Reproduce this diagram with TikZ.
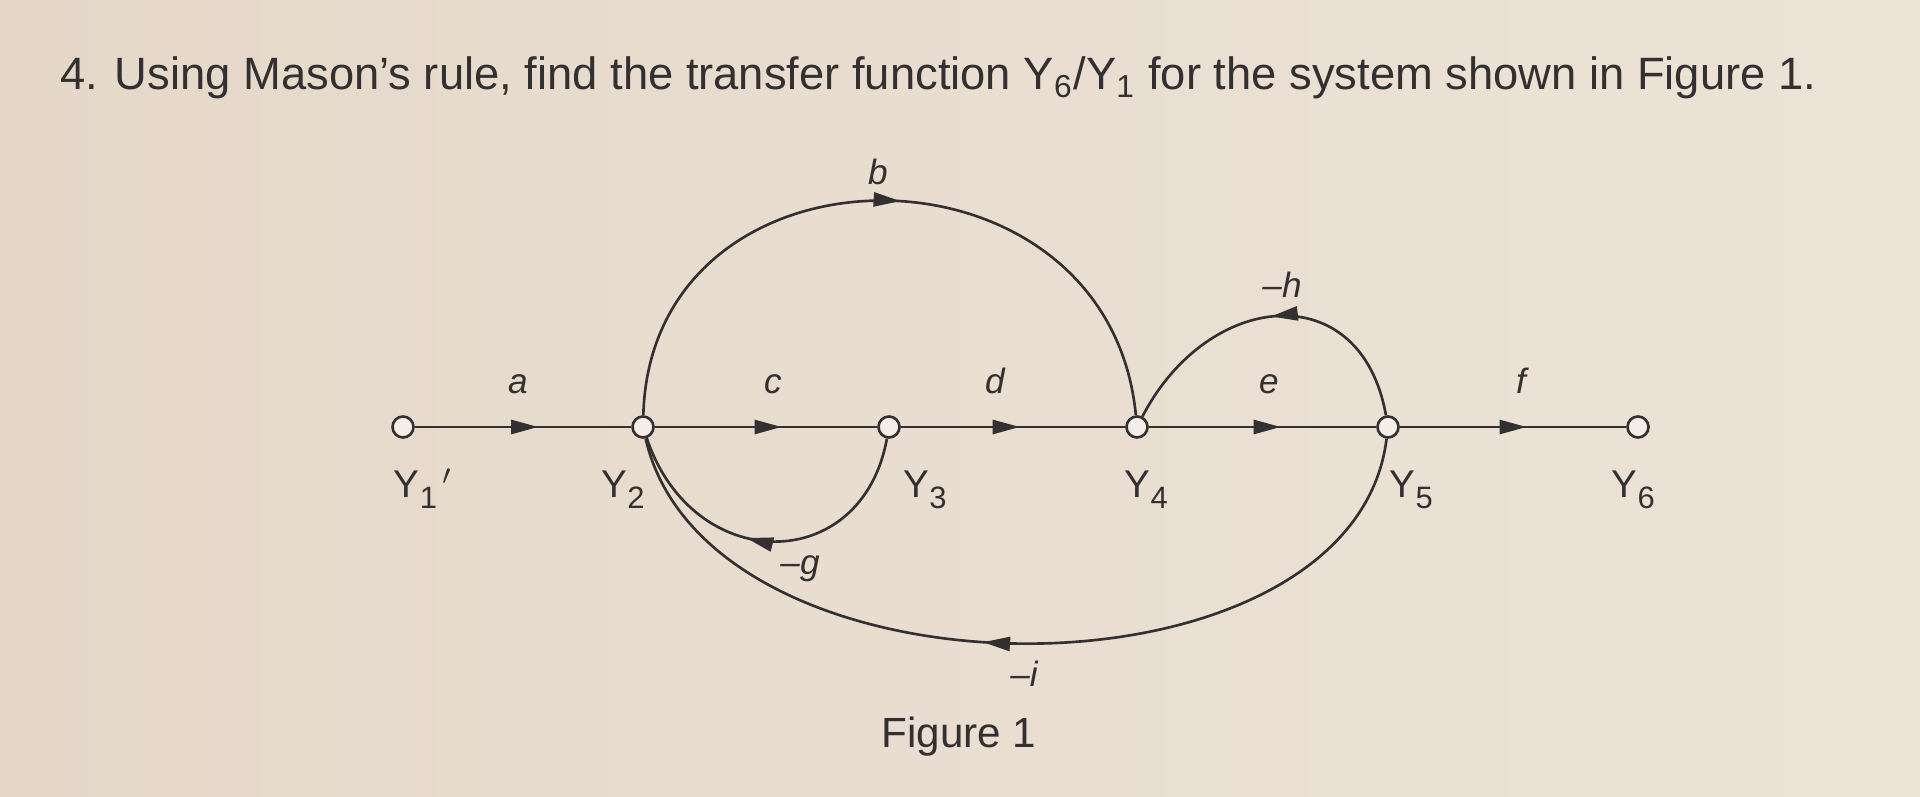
\documentclass[tikz,border=0pt]{standalone}
\usepackage{fontspec}
\setmainfont{Liberation Sans}
\usepackage{tikz}
\usetikzlibrary{
    arrows.meta,
    decorations.markings
}
\definecolor{paper}{RGB}{232,221,207}
\definecolor{paperleft}{RGB}{229,216,201}
\definecolor{paperright}{RGB}{236,227,215}
\definecolor{ink}{RGB}{50,48,48}
\newcommand{\ysig}[1]{Y\kern0.01em\raisebox{-3pt}{\fontsize{8.8}{10}\selectfont #1}}

\begin{document}
\begin{tikzpicture}[ink, line width=0.75pt, >={Triangle[length=2.7mm,width=1.4mm]}]
    \tikzset{flow/.style={postaction={decorate, decoration={markings, mark=at position #1 with {\arrow{>}}}}}, flow/.default=0.57}
    \tikzstyle{sig}=[shape=circle, draw, fill=paper!50!white, inner sep=0pt, minimum size=2.1mm]
    \tikzstyle{gain}=[anchor=base, inner sep=0pt, font=\itshape\fontsize{10}{12}\selectfont]
    \tikzstyle{ylab}=[anchor=base, inner sep=0pt, font=\fontsize{11}{13}\selectfont]

    \shade[left color=paperleft, right color=paperright] (0,0) rectangle (19.2,7.97);
    \useasboundingbox (0,0) rectangle (19.2,7.97);

    \node[anchor=base west, inner sep=0pt, font=\fontsize{12.9}{15}\selectfont] (title) at (0.59,7.07)
        {4. Using Mason’s rule, find the transfer function Y\textsubscript{6}/Y\textsubscript{1} for the system shown in Figure 1.};

    % signal nodes
    \node[sig] (Y1) at (4.03,3.70) {};
    \node[sig] (Y2) at (6.43,3.70) {};
    \node[sig] (Y3) at (8.89,3.70) {};
    \node[sig] (Y4) at (11.37,3.70) {};
    \node[sig] (Y5) at (13.88,3.70) {};
    \node[sig] (Y6) at (16.38,3.70) {};

    \node[ylab] (nY1) at (4.23,2.99) {\ysig{1}\kern1.5pt$'$};
    \node[ylab] (nY2) at (6.23,2.99) {\ysig{2}};
    \node[ylab] (nY3) at (9.25,2.99) {\ysig{3}};
    \node[ylab] (nY4) at (11.46,2.99) {\ysig{4}};
    \node[ylab] (nY5) at (14.11,2.99) {\ysig{5}};
    \node[ylab] (nY6) at (16.33,2.99) {\ysig{6}};

    % forward branches
    \draw[flow] (Y1) -- (Y2);
    \draw[flow] (Y2) -- (Y3);
    \draw[flow=0.53] (Y3) -- (Y4);
    \draw[flow=0.58] (Y4) -- (Y5);
    \draw[flow=0.56] (Y5) -- (Y6);
    \draw[flow=0.52] (Y2) .. controls +(0.08,2.98) and +(-0.29,2.98) .. (Y4);

    % feedback branches
    \draw[flow=0.5] (Y5) .. controls +(-0.27,1.52) and +(0.71,1.37) .. (Y4);
    \draw[flow=0.57] (Y3) .. controls +(-0.27,-1.49) and +(0.5,-1.49) .. (Y2);
    \draw[flow=0.54] (Y5) .. controls +(-0.35,-2.85) and +(0.65,-2.85) .. (Y2);

    \node[gain] (ga) at (5.18,4.03) {a};
    \node[gain] (gb) at (8.78,6.12) {b};
    \node[gain] (gc) at (7.73,4.03) {c};
    \node[gain] (gd) at (9.95,4.03) {d};
    \node[gain] (ge) at (12.69,4.03) {e};
    \node[gain] (gf) at (15.21,4.03) {f};
    \node[gain] (gh) at (12.82,4.99) {--h};
    \node[gain] (gg) at (8.00,2.22) {--g};
    \node[gain] (gi) at (10.24,1.10) {--i};

    \node[anchor=base, inner sep=0pt, font=\fontsize{12}{14}\selectfont] (cap) at (9.59,0.49) {Figure 1};
\end{tikzpicture}
\end{document}
